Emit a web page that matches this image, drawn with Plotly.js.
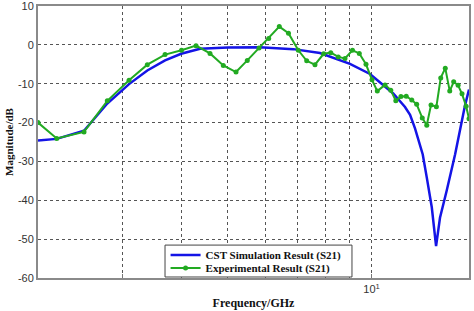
<!DOCTYPE html>
<html><head><meta charset="utf-8">
<script src="https://cdn.plot.ly/plotly-3.0.1.min.js"></script>
<style>html,body{margin:0;padding:0;background:#fff}#c{width:474px;height:311px}</style>
</head><body><div id="c"></div>
<script>
// CST simulation (S21)
var simFreq = [2.0, 2.189, 2.497, 2.794, 3.103, 3.389, 3.692, 3.99, 4.371, 5.002, 5.837, 6.855, 7.796, 9.01, 9.924, 10.41, 11.1, 11.75, 12.04, 12.33, 12.8, 13.05, 13.37, 13.65, 13.91, 14.37, 14.96, 15.7, 16.0];
var simDb   = [-24.6, -24.2, -22.1, -15.1, -10.1, -6.6, -4.0, -2.3, -1.0, -0.65, -0.6, -1.1, -2.1, -4.9, -7.5, -9.6, -12.5, -16.0, -18.0, -21.5, -28.2, -34.1, -41.8, -51.8, -44.5, -37.5, -28.2, -15.5, -11.5];
// Experimental (S21)
var expFreq = [2.0, 2.189, 2.497, 2.794, 3.103, 3.389, 3.692, 3.997, 4.287, 4.586, 4.89, 5.199, 5.49, 5.809, 6.087, 6.407, 6.697, 7.022, 7.312, 7.61, 7.936, 8.213, 8.515, 8.795, 9.12, 9.425, 9.734, 10.02, 10.28, 10.67, 10.97, 11.24, 11.52, 11.82, 12.14, 12.43, 12.77, 13.05, 13.32, 13.67, 13.96, 14.27, 14.58, 14.86, 15.18, 15.47, 15.78, 16.0];
var expDb   = [-20.0, -24.1, -22.4, -14.4, -9.1, -5.1, -2.5, -1.4, -0.2, -2.2, -5.3, -7.0, -4.0, -0.8, 1.65, 4.7, 3.0, -1.4, -4.1, -5.1, -2.3, -2.0, -3.1, -3.5, -1.4, -2.2, -5.0, -9.0, -11.9, -10.3, -11.65, -14.4, -13.3, -13.2, -14.2, -15.3, -18.8, -20.7, -15.5, -15.9, -8.5, -6.0, -11.9, -9.5, -10.4, -12.6, -15.8, -19.0];
// axis ticks
var xMajorVals = [10];
var xMajorText = ['10<sup>1</sup>'];
var xMinorVals = [3, 4, 5, 6, 7, 8, 9];
var yTickVals = [10, 0, -10, -20, -30, -40, -50, -60];
var yTickText = ['10', '0', '-10', '-20', '-30', '-40', '-50', '-60'];
var seriesNames = ['CST Simulation Result (S21)', 'Experimental Result (S21)'];

var serif = 'Liberation Serif, Times New Roman, serif';
var legFont = {family: serif, size: 11, color: '#111', weight: 'bold'};
var traces = [
  {x: simFreq, y: simDb, name: seriesNames[0], type: 'scatter', mode: 'lines',
   line: {color: '#1414e6', width: 2.5}, legend: 'legend'},
  {x: expFreq, y: expDb, name: seriesNames[1], type: 'scatter', mode: 'lines+markers',
   line: {color: '#22aa22', width: 2}, marker: {color: '#22aa22', size: 5}, legend: 'legend2'}
];
var legBase = {x: 0.296, xanchor: 'left', yanchor: 'middle', bgcolor: 'rgba(0,0,0,0)',
  borderwidth: 0, font: legFont, itemwidth: 30};
var layout = {
  width: 474, height: 311,
  margin: {l: 38, r: 5, t: 6, b: 33},
  paper_bgcolor: '#fff', plot_bgcolor: '#fff',
  showlegend: true,
  legend: Object.assign({}, legBase, {y: 0.0846}),
  legend2: Object.assign({}, legBase, {y: 0.0368}),
  shapes: [{type: 'rect', xref: 'paper', yref: 'paper', x0: 0.2947, x1: 0.7285, y0: 0.0037, y1: 0.121,
    fillcolor: '#fff', line: {color: '#444', width: 1}, layer: 'above'}],
  xaxis: {type: 'log', range: [Math.log10(2), Math.log10(16)],
    tickmode: 'array', tickvals: xMajorVals, ticktext: xMajorText,
    ticks: 'inside', ticklen: 4, tickcolor: '#777',
    minor: {tickmode: 'array', tickvals: xMinorVals, ticks: 'inside', ticklen: 4, tickcolor: '#777',
      showgrid: true, gridcolor: '#555', griddash: 'dot', gridwidth: 1},
    showgrid: true, gridcolor: '#555', griddash: 'dot', gridwidth: 1,
    showline: true, linecolor: '#8a8a8a', linewidth: 2, mirror: true,
    zeroline: false,
    tickfont: {family: 'Liberation Sans, Arial, sans-serif', size: 11, color: '#333'},
    title: {text: 'Frequency/GHz', font: {family: serif, size: 12, color: '#111', weight: 'bold'}, standoff: 4}},
  yaxis: {range: [-60, 10], tickmode: 'array', tickvals: yTickVals, ticktext: yTickText,
    ticks: '', ticklabeloverflow: 'allow',
    showgrid: true, gridcolor: '#555', griddash: 'dot', gridwidth: 1,
    showline: true, linecolor: '#8a8a8a', linewidth: 2, mirror: true,
    zeroline: false,
    tickfont: {family: 'Liberation Sans, Arial, sans-serif', size: 11, color: '#333'},
    title: {text: 'Magnitude/dB', font: {family: serif, size: 11, color: '#111', weight: 'bold'}, standoff: 2}}
};
Plotly.newPlot('c', traces, layout, {staticPlot: true, displayModeBar: false});
</script>
</body></html>
